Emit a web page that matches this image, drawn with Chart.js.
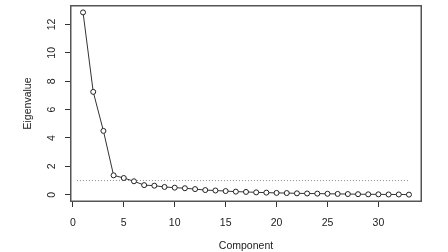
<!DOCTYPE html>
<html>
<head>
<meta charset="utf-8">
<script src="https://cdn.jsdelivr.net/npm/chart.js@4"></script>
<style>
  html, body { margin: 0; padding: 0; background: #fff; }
  #wrap { width: 448px; height: 252px; }
</style>
</head>
<body>
<div id="wrap"><canvas id="scree"></canvas></div>
<script>
// scree plot data
const components = [];
for (let i = 1; i <= 33; i++) components.push(i);
const eigenvalues = [12.85, 7.25, 4.5, 1.37, 1.18, 0.95, 0.68, 0.64, 0.55, 0.50, 0.46,
    0.40, 0.33, 0.30, 0.26, 0.22, 0.20, 0.17, 0.15, 0.13, 0.12, 0.10, 0.09, 0.08,
    0.07, 0.06, 0.05, 0.04, 0.03, 0.03, 0.02, 0.02, 0.01];
const cutoffX = [0.4, 33];
const cutoffValue = 1;
const xTicks = [0, 5, 10, 15, 20, 25, 30];
const yTicks = [0, 2, 4, 6, 8, 10, 12];

const font = { family: 'Liberation Sans, Arial, sans-serif', size: 10.5 };
const ink = '#222';

// R style: box round the plot and rotated y tick labels
const rStyle = {
    id: 'rStyle',
    afterDraw(chart) {
        const c = chart.ctx, a = chart.chartArea, y = chart.scales.y;
        c.save();
        c.strokeStyle = '#555';
        c.lineWidth = 1.5;
        c.strokeRect(a.left + 0.75, a.top + 0.75, a.right - a.left - 1.5, a.bottom - a.top - 1.5);
        c.fillStyle = ink;
        c.font = font.size + 'px ' + font.family;
        c.textAlign = 'center';
        c.textBaseline = 'middle';
        yTicks.forEach(v => {
            c.save();
            c.translate(52, y.getPixelForValue(v));
            c.rotate(-Math.PI / 2);
            c.fillText(String(v), 0, 0);
            c.restore();
        });
        c.restore();
    }
};

new Chart(document.getElementById('scree'), {
    type: 'line',
    data: {
        datasets: [
            {
                label: 'Eigenvalue',
                data: components.map((x, i) => ({ x: x, y: eigenvalues[i] })),
                borderColor: '#333',
                borderWidth: 1,
                pointRadius: 2.5,
                pointBorderWidth: 1,
                pointBackgroundColor: '#fff',
                pointBorderColor: '#222',
                tension: 0
            },
            {
                label: 'cutoff',
                data: cutoffX.map(x => ({ x: x, y: cutoffValue })),
                borderColor: '#8a8a8a',
                borderWidth: 1,
                borderDash: [1, 2],
                pointRadius: 0
            }
        ]
    },
    options: {
        responsive: true,
        maintainAspectRatio: false,
        animation: false,
        layout: { padding: { top: 0, right: 26, left: 0, bottom: 0 } },
        plugins: {
            legend: { display: false },
            tooltip: { enabled: false }
        },
        scales: {
            x: {
                type: 'linear',
                min: -0.28,
                max: 34.28,
                afterBuildTicks: s => { s.ticks = xTicks.map(v => ({ value: v })); },
                afterFit: s => { s.height = 50; },
                grid: { drawOnChartArea: false, tickLength: 5, color: '#333' },
                border: { display: false },
                ticks: { color: ink, font: font, padding: 10, maxRotation: 0 },
                title: { display: true, text: 'Component', color: ink, font: font, padding: { top: 0, bottom: 0 } }
            },
            y: {
                type: 'linear',
                min: -0.51,
                max: 13.37,
                afterBuildTicks: s => { s.ticks = yTicks.map(v => ({ value: v })); },
                afterFit: s => { s.width = 70; },
                grid: { drawOnChartArea: false, tickLength: 5, color: '#333' },
                border: { display: false },
                ticks: { display: false },
                title: { display: true, text: 'Eigenvalue', color: ink, font: font, padding: { top: 22, bottom: 0 } }
            }
        }
    },
    plugins: [rStyle]
});
</script>
</body>
</html>
